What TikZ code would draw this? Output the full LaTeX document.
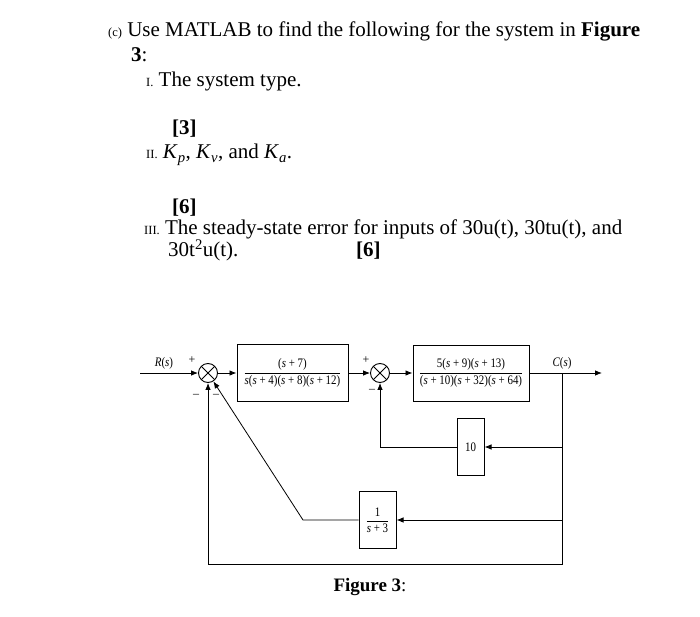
\documentclass[tikz,border=0pt]{standalone}
\usepackage{amsmath}
\usepackage{graphicx}
\usepackage{fontspec}
\setmainfont{Liberation Serif}
\usetikzlibrary{positioning, arrows.meta}
\newcommand{\vs}{\textit{s}}
\newcommand{\nrw}[1]{\scalebox{0.84}[1]{#1}}
\newcommand{\tfn}[2]{\nrw{$\dfrac{\text{#1}}{\text{#2}}$}}

\begin{document}
\begin{tikzpicture}[x=1pt, y=-1pt, font=\fontsize{13}{15}\selectfont,
    blk/.style={draw, line width=1pt, inner sep=0pt},
    sumnode/.style={draw, circle, minimum size=19pt, inner sep=0pt, line width=0.9pt,
      path picture={\draw[line width=0.9pt] (path picture bounding box.north west) -- (path picture bounding box.south east)
        (path picture bounding box.north east) -- (path picture bounding box.south west);}},
    sig/.style={-{Latex[length=7pt,width=5.5pt]}, line width=0.8pt},
    qtext/.style={anchor=base west, inner sep=0pt, font=\fontsize{21}{24}\selectfont},
    sgn/.style={inner sep=0pt, font=\fontsize{12}{13}\selectfont}]
    \useasboundingbox (0,0) rectangle (700,617);

    % question text
    \node[qtext] (q0) at (108,37) {{\fontsize{12.5}{14}\selectfont(c)} Use MATLAB to find the following for the system in \textbf{Figure}};
    \node[qtext] (q1) at (131,62) {\textbf{3}:};
    \node[qtext] (q2) at (146,87) {{\fontsize{12.5}{14}\selectfont I.} The system type.};
    \node[qtext] (q3) at (172,135) {\textbf{[3]}};
    \node[qtext] (q4) at (146,159) {{\fontsize{12.5}{14}\selectfont II.} \textit{K}\textsubscript{\textit{p}}, \textit{K}\textsubscript{\textit{v}}, and \textit{K}\textsubscript{\textit{a}}.};
    \node[qtext] (q5) at (172,214) {\textbf{[6]}};
    \node[qtext] (q6) at (144,235) {{\fontsize{12.5}{14}\selectfont III.} The steady-state error for inputs of 30u(t), 30tu(t), and};
    \node[qtext] (q7) at (168,257) {30t\textsuperscript{2}u(t).};
    \node[qtext] (q8) at (356,257) {\textbf{[6]}};

    % blocks
    \node[sumnode] (sum1) at (208,373) {};
    \node[sumnode] (sum2) at (380,373) {};
    \node[blk, minimum width=111pt, minimum height=57pt] (g1) at (292.5,373) {\tfn{(\vs\ + 7)}{\vs(\vs\ + 4)(\vs\ + 8)(\vs\ + 12)}};
    \node[blk, minimum width=116pt, minimum height=56pt] (g2) at (471,373) {\tfn{5(\vs\ + 9)(\vs\ + 13)}{(\vs\ + 10)(\vs\ + 32)(\vs\ + 64)}};
    \node[blk, minimum width=27pt, minimum height=57pt] (h1) at (470.5,447) {\nrw{10}};
    \node[blk, minimum width=37pt, minimum height=57pt] (h2) at (377.5,520) {\tfn{1}{\vs\ + 3}};

    \coordinate (in) at (140,373);
    \coordinate (out) at (602,373);
    \coordinate (tap) at (562,373);
    \coordinate (bot) at (562,564);
    \coordinate (knee) at (303,520);

    % forward path
    \draw[sig] (in) -- (sum1);
    \draw[sig] (sum1) -- (g1);
    \draw[sig] (g1) -- (sum2);
    \draw[sig] (sum2) -- (g2);
    \draw[sig] (g2) -- (out);

    % feedback paths
    \draw[sig] (tap) -- (bot) -- (sum1 |- bot) -- (sum1);
    \draw[sig] (tap |- h1) -- (h1);
    \draw[sig] (h1) -- (sum2 |- h1) -- (sum2);
    \draw[sig] (tap |- h2) -- (h2);
    \draw[sig] (h2) -- (knee) -- (sum1);

    % labels
    \node (rlab) at (164,363) {\nrw{\textit{R}(\vs)}};
    \node (clab) at (562,363) {\nrw{\textit{C}(\vs)}};
    \node[sgn] (p1) at (192,360) {+};
    \node[sgn] (m1) at (196,396) {--};
    \node[sgn] (m2) at (216,396) {--};
    \node[sgn] (p2) at (366,360) {+};
    \node[sgn] (m3) at (372,391) {--};

    \node[font=\fontsize{19}{21}\selectfont] (cap) at (370,587) {\textbf{Figure 3}:};
\end{tikzpicture}
\end{document}
